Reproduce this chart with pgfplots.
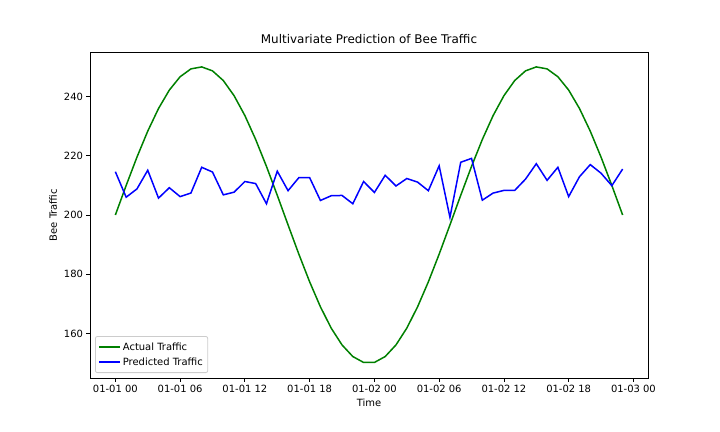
\documentclass[border=0pt]{standalone}
\usepackage{fontspec}
\setmainfont{DejaVu Sans}
\usepackage{pgfplots}
\pgfplotsset{compat=1.18}
\definecolor{mplgreen}{RGB}{0,128,0}
\definecolor{mplblue}{RGB}{0,0,255}
\definecolor{legframe}{RGB}{204,204,204}

% hour since 01-01 00, value
\pgfplotstableread{
h v
0 200
1 209.96
2 219.52
3 228.30
4 235.94
5 242.15
6 246.65
7 249.30
8 249.97
9 248.63
10 245.37
11 240.25
12 233.55
13 225.48
14 216.40
15 206.66
16 196.66
17 186.79
18 177.45
19 169.01
20 161.81
21 156.16
22 152.24
23 150.25
24 150.25
25 152.24
26 156.16
27 161.81
28 169.01
29 177.45
30 186.79
31 196.66
32 206.66
33 216.40
34 225.48
35 233.55
36 240.25
37 245.37
38 248.63
39 249.97
40 249.30
41 246.65
42 242.15
43 235.94
44 228.30
45 219.52
46 209.96
47 200
}\actual

\pgfplotstableread{
h v
0 214.6
1 206.0
2 208.8
3 215.1
4 205.7
5 209.2
6 206.2
7 207.4
8 216.1
9 214.5
10 206.8
11 207.7
12 211.3
13 210.6
14 203.8
15 214.8
16 208.2
17 212.6
18 212.6
19 204.9
20 206.5
21 206.6
22 203.8
23 211.3
24 207.6
25 213.4
26 209.8
27 212.3
28 211.1
29 208.2
30 216.6
31 199.2
32 217.8
33 219.1
34 205.0
35 207.4
36 208.3
37 208.3
38 212.1
39 217.3
40 211.7
41 216.1
42 206.2
43 212.9
44 217.0
45 214.1
46 209.9
47 215.5
}\predicted

\begin{document}
\fontsize{10}{12}\selectfont
\begin{tikzpicture}
\path[use as bounding box] (-90bp,-54bp) rectangle (630bp,378bp);
\begin{axis}[
    scale only axis,
    width=558bp, height=326bp,
    xmin=-2.35, xmax=49.35,
    ymin=145, ymax=255,
    xtick={0,6,...,48},
    xticklabels={01-01 00,01-01 06,01-01 12,01-01 18,01-02 00,01-02 06,01-02 12,01-02 18,01-03 00},
    ytick={160,180,...,240},
    xtick pos=bottom, ytick pos=left,
    tick align=outside,
    major tick length=3.5bp,
    every tick/.style={black, line width=0.8bp},
    axis line style={line width=0.8bp},
    /pgf/number format/assume math mode=true,
    ticklabel style={font=\fontsize{10}{12}\selectfont},
    title={Multivariate Prediction of Bee Traffic},
    title style={font=\fontsize{12}{14}\selectfont, yshift=-1bp},
    xlabel={Time},
    ylabel={Bee Traffic},
    label style={font=\fontsize{10}{12}\selectfont},
    legend cell align=left,
    legend image code/.code={\draw[#1] (0bp,0bp) -- (21bp,0bp);},
    legend style={
        at={(0,0)}, anchor=south west, xshift=5bp, yshift=5bp,
        draw=legframe, rounded corners=2bp, line width=0.8bp,
        fill=white, fill opacity=0.8, text opacity=1,
        font=\fontsize{10}{12}\selectfont,
        inner xsep=3bp, inner ysep=3bp,
        nodes={inner ysep=3bp},
    },
]
\addplot[mplgreen, line width=1.5bp] table[x=h, y=v] {\actual};
\addlegendentry{Actual Traffic}
\addplot[mplblue, line width=1.5bp] table[x=h, y=v] {\predicted};
\addlegendentry{Predicted Traffic}
\end{axis}
\end{tikzpicture}
\end{document}
